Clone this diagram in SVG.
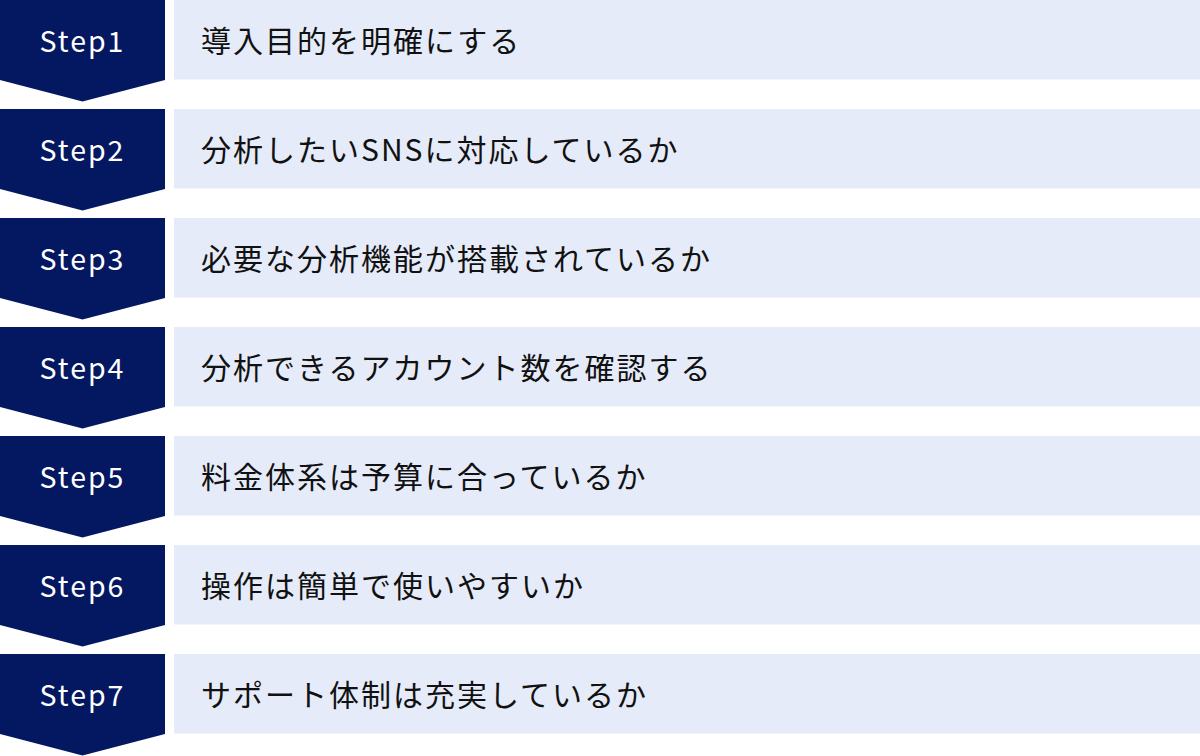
<svg xmlns="http://www.w3.org/2000/svg" width="1200" height="756" viewBox="0 0 1200 756">
<defs>
<style>
.chev{fill:#041862}
.box{fill:#E5EBF8}
.step{font-family:"Noto Sans CJK JP","Noto Sans",sans-serif;font-size:28.5px;fill:#ffffff;text-anchor:middle;letter-spacing:2px}
.lbl{font-family:"Noto Sans CJK JP","Noto Sans",sans-serif;font-size:30px;fill:#111111;letter-spacing:2px}
</style>
<path id="chevShape" class="chev" d="M0 0H165V80L82.5 101.5L0 80Z"/>
</defs>
<g id="connectors"></g>
<g id="step1" transform="translate(0,0)">
<use href="#chevShape"/><rect class="box" x="174" y="0" width="1026" height="79.5"/>
<text class="step" x="82.5" y="51.5">Step1</text><text class="lbl" x="201" y="52">導入目的を明確にする</text>
</g>
<g id="step2" transform="translate(0,109)">
<use href="#chevShape"/><rect class="box" x="174" y="0" width="1026" height="79.5"/>
<text class="step" x="82.5" y="51.5">Step2</text><text class="lbl" x="201" y="52">分析したいSNSに対応しているか</text>
</g>
<g id="step3" transform="translate(0,218)">
<use href="#chevShape"/><rect class="box" x="174" y="0" width="1026" height="79.5"/>
<text class="step" x="82.5" y="51.5">Step3</text><text class="lbl" x="201" y="52">必要な分析機能が搭載されているか</text>
</g>
<g id="step4" transform="translate(0,327)">
<use href="#chevShape"/><rect class="box" x="174" y="0" width="1026" height="79.5"/>
<text class="step" x="82.5" y="51.5">Step4</text><text class="lbl" x="201" y="52">分析できるアカウント数を確認する</text>
</g>
<g id="step5" transform="translate(0,436)">
<use href="#chevShape"/><rect class="box" x="174" y="0" width="1026" height="79.5"/>
<text class="step" x="82.5" y="51.5">Step5</text><text class="lbl" x="201" y="52">料金体系は予算に合っているか</text>
</g>
<g id="step6" transform="translate(0,545)">
<use href="#chevShape"/><rect class="box" x="174" y="0" width="1026" height="79.5"/>
<text class="step" x="82.5" y="51.5">Step6</text><text class="lbl" x="201" y="52">操作は簡単で使いやすいか</text>
</g>
<g id="step7" transform="translate(0,654)">
<use href="#chevShape"/><rect class="box" x="174" y="0" width="1026" height="79.5"/>
<text class="step" x="82.5" y="51.5">Step7</text><text class="lbl" x="201" y="52">サポート体制は充実しているか</text>
</g>
</svg>
